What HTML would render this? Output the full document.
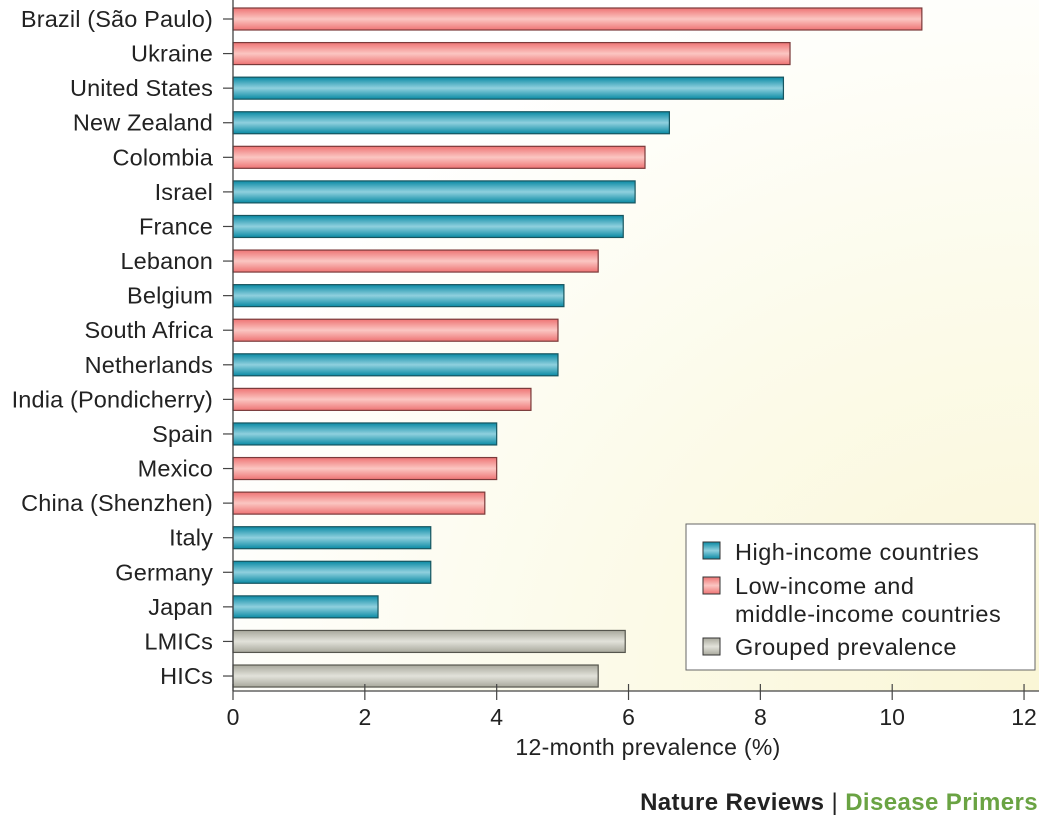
<!DOCTYPE html>
<html><head><meta charset="utf-8"><style>
html,body{margin:0;padding:0;background:#fff;}
svg{display:block;font-family:"Liberation Sans",sans-serif;}
</style></head><body>
<svg id="chart" width="1050" height="815" viewBox="0 0 1050 815">
<defs>
<radialGradient id="bg" cx="1" cy="1" r="1.1" gradientUnits="objectBoundingBox">
<stop offset="0" stop-color="#faf6d6"/><stop offset="0.55" stop-color="#fcfbeb"/><stop offset="1" stop-color="#ffffff"/>
</radialGradient>
<linearGradient id="gH" x1="0" y1="0" x2="0" y2="1"><stop offset="0" stop-color="#0a8aa4"/><stop offset="0.5" stop-color="#8fd0de"/><stop offset="1" stop-color="#0a8aa4"/></linearGradient>
<linearGradient id="gL" x1="0" y1="0" x2="0" y2="1"><stop offset="0" stop-color="#ee7474"/><stop offset="0.5" stop-color="#fbc6c2"/><stop offset="1" stop-color="#ee7474"/></linearGradient>
<linearGradient id="gG" x1="0" y1="0" x2="0" y2="1"><stop offset="0" stop-color="#a8a89c"/><stop offset="0.5" stop-color="#e2e2da"/><stop offset="1" stop-color="#a8a89c"/></linearGradient>
</defs>
<rect x="233" y="0" width="806" height="691" fill="url(#bg)"/>
<g id="bars"></g>
<g id="axes"></g>
<g>
<rect x="686" y="524" width="349" height="146" fill="#fff" stroke="#666" stroke-width="1"/>
<rect x="703" y="542" width="17" height="17" fill="url(#gH)" stroke="#333"/>
<text x="735" y="560" font-size="23.5" letter-spacing="0.5" fill="#222">High-income countries</text>
<rect x="703" y="577" width="17" height="17" fill="url(#gL)" stroke="#333"/>
<text x="735" y="594" font-size="23.5" letter-spacing="0.5" fill="#222">Low-income and</text>
<text x="735" y="622" font-size="23.5" letter-spacing="0.5" fill="#222">middle-income countries</text>
<rect x="703" y="638" width="17" height="17" fill="url(#gG)" stroke="#333"/>
<text x="735" y="655" font-size="23.5" letter-spacing="0.5" fill="#222">Grouped prevalence</text>
</g>
<text x="648" y="755" font-size="23" letter-spacing="0.3" text-anchor="middle" fill="#222">12-month prevalence (%)</text>
<text x="1038" y="810" font-size="24" font-weight="bold" letter-spacing="0.4" text-anchor="end"><tspan fill="#222">Nature Reviews</tspan><tspan fill="#222" font-weight="normal"> | </tspan><tspan fill="#6aa343">Disease Primers</tspan></text>
</svg>
<script>
const categories=["Brazil (São Paulo)","Ukraine","United States","New Zealand","Colombia","Israel","France","Lebanon","Belgium","South Africa","Netherlands","India (Pondicherry)","Spain","Mexico","China (Shenzhen)","Italy","Germany","Japan","LMICs","HICs"];
const values=[10.45,8.45,8.35,6.62,6.25,6.1,5.92,5.54,5.02,4.93,4.93,4.52,4.0,4.0,3.82,3.0,3.0,2.2,5.95,5.54];
const groups=["L","L","H","H","L","H","H","L","H","L","H","L","H","L","L","H","H","H","G","G"];
const xTicks=[0,2,4,6,8,10,12];
const NS="http://www.w3.org/2000/svg";
const x=v=>233+v*65.92;
const y=i=>19+i*34.58;
const fills={H:"url(#gH)",L:"url(#gL)",G:"url(#gG)"};
const strokes={H:"#17555f",L:"#7a3a3a",G:"#55554d"};
function mk(t,a,p){const e=document.createElementNS(NS,t);for(const k in a)e.setAttribute(k,a[k]);p.appendChild(e);return e;}
const bars=document.getElementById('bars'),axes=document.getElementById('axes');
categories.forEach((c,i)=>{
 const r=mk('rect',{x:233,y:y(i)-11,width:x(values[i])-233,height:22,fill:fills[groups[i]],stroke:strokes[groups[i]],'stroke-width':1.2},bars);
 
 
 const tk=mk('line',{x1:223,x2:233,y1:y(i),y2:y(i),stroke:'#444','stroke-width':1.2},axes);
 
 
 const t=mk('text',{x:213,y:y(i)+8,'font-size':23.5,'letter-spacing':0.15,'text-anchor':'end',fill:'#222'},axes);
 t.textContent=c;
 
 
});
const ax=mk('line',{x1:233,x2:233,y1:0,y2:691,stroke:'#444','stroke-width':1.3},axes);


const bx=mk('line',{x1:233,x2:1039,y1:691,y2:691,stroke:'#444','stroke-width':1.3},axes);


xTicks.forEach(v=>{
 const l=mk('line',{x1:x(v),x2:x(v),y1:684,y2:700,stroke:'#444','stroke-width':1.2},axes);
 
 
 const t=mk('text',{x:x(v),y:725,'font-size':23,'text-anchor':'middle',fill:'#222'},axes);
 t.textContent=v;
 
 
});
</script>
</body></html>
